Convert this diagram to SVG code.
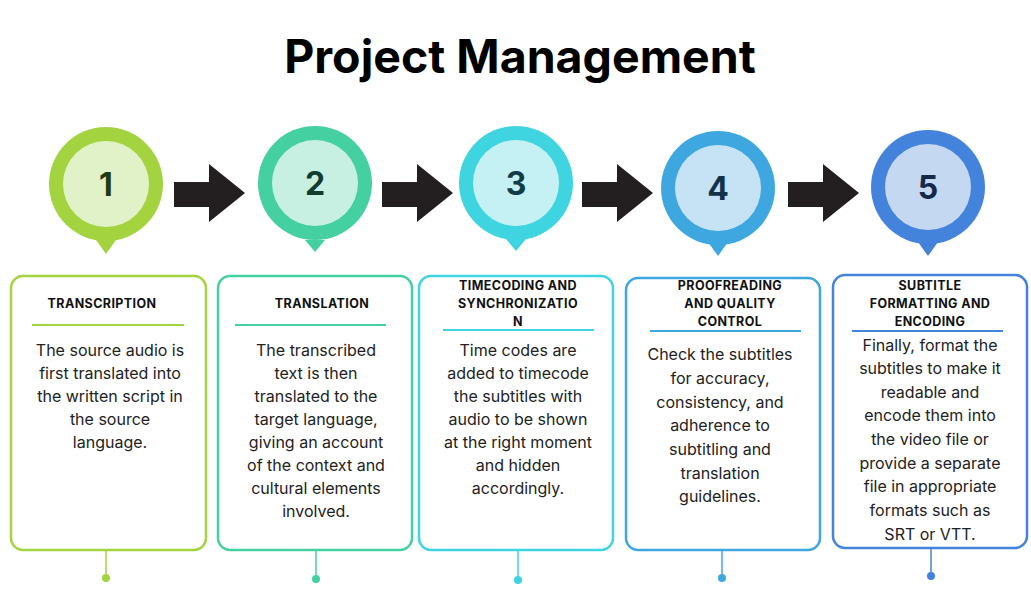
<svg xmlns="http://www.w3.org/2000/svg" width="1031" height="607" viewBox="0 0 1031 607">
<style>
.t{font-family:Inter,"Noto Sans",sans-serif;font-weight:700;font-size:46.5px;fill:#000}
.n{font-family:Inter,"Noto Sans",sans-serif;font-weight:700;font-size:32px}
.h{font-family:Inter,"Noto Sans",sans-serif;font-weight:700;font-size:12.5px;fill:#111;text-anchor:middle;letter-spacing:0.4px}
.b{font-family:Inter,"Noto Sans",sans-serif;font-size:16px;fill:#222;text-anchor:middle}
.box{fill:#fff;stroke-width:2.5}
.arr{fill:#231f20}
</style>
<rect width="1031" height="607" fill="#fff"/>
<text class="t" x="520" y="73" text-anchor="middle">Project Management</text>
<g id="connectors">
<path class="arr" d="M174,182H209V164L245,193L209,222V207H174Z"/>
<path class="arr" d="M382,182H417V164L453,193L417,222V207H382Z"/>
<path class="arr" d="M582,182H617V164L653,193L617,222V207H582Z"/>
<path class="arr" d="M788,182H823V164L859,193L823,222V207H788Z"/>
<g stroke-width="1.5">
<line x1="106" y1="550" x2="106" y2="578" stroke="#a3d440"/>
<line x1="316" y1="550" x2="316" y2="579" stroke="#44d0a0"/>
<line x1="518" y1="550" x2="518" y2="580" stroke="#3fd5e0"/>
<line x1="722" y1="550" x2="722" y2="578" stroke="#3fa7e0"/>
<line x1="931" y1="548" x2="931" y2="576" stroke="#4383dc"/>
</g>
<circle cx="106" cy="578" r="4" fill="#a3d440"/>
<circle cx="316" cy="579" r="4" fill="#44d0a0"/>
<circle cx="518" cy="580" r="4" fill="#3fd5e0"/>
<circle cx="722" cy="578" r="4" fill="#3fa7e0"/>
<circle cx="931" cy="576" r="4" fill="#4383dc"/>
</g>
<g id="step1">
<path d="M96,240L106,254L116,240Z" fill="#a3d440"/>
<circle cx="106" cy="184" r="57" fill="#a3d440"/>
<circle cx="106" cy="184" r="43" fill="#e2f2c8"/>
<text class="n" x="106" y="196" text-anchor="middle" fill="#1f3a10">1</text>
<rect class="box" x="11" y="276" width="195" height="274" rx="12" stroke="#a3d440"/>
<text class="h" x="102" y="308">TRANSCRIPTION</text>
<line x1="32" y1="325" x2="184" y2="325" stroke="#a3d440" stroke-width="2"/>
<text class="b"><tspan x="110" y="356">The source audio is</tspan><tspan x="110" y="379">first translated into</tspan><tspan x="110" y="402">the written script in</tspan><tspan x="110" y="425">the source</tspan><tspan x="110" y="448">language.</tspan></text>
</g>
<g id="step2">
<path d="M305,240L315,252L325,240Z" fill="#44d0a0"/>
<circle cx="315" cy="183" r="57" fill="#44d0a0"/>
<circle cx="315" cy="183" r="43" fill="#c8f0e2"/>
<text class="n" x="315" y="195" text-anchor="middle" fill="#113d30">2</text>
<rect class="box" x="218" y="276" width="194" height="274" rx="12" stroke="#44d0a0"/>
<text class="h" x="322" y="308">TRANSLATION</text>
<line x1="235" y1="325" x2="386" y2="325" stroke="#44d0a0" stroke-width="2"/>
<text class="b"><tspan x="316" y="356">The transcribed</tspan><tspan x="316" y="379">text is then</tspan><tspan x="316" y="402">translated to the</tspan><tspan x="316" y="425">target language,</tspan><tspan x="316" y="448">giving an account</tspan><tspan x="316" y="471">of the context and</tspan><tspan x="316" y="494">cultural elements</tspan><tspan x="316" y="517">involved.</tspan></text>
</g>
<g id="step3">
<path d="M506,239L516,251L526,239Z" fill="#3fd5e0"/>
<circle cx="516" cy="183" r="57" fill="#3fd5e0"/>
<circle cx="516" cy="183" r="43" fill="#c6f1f4"/>
<text class="n" x="516" y="195" text-anchor="middle" fill="#123c48">3</text>
<rect class="box" x="419" y="276" width="194" height="274" rx="12" stroke="#3fd5e0"/>
<text class="h"><tspan x="518" y="290">TIMECODING AND</tspan><tspan x="518" y="308">SYNCHRONIZATIO</tspan><tspan x="518" y="326">N</tspan></text>
<line x1="443" y1="330" x2="594" y2="330" stroke="#3fd5e0" stroke-width="2"/>
<text class="b"><tspan x="518" y="356">Time codes are</tspan><tspan x="518" y="379">added to timecode</tspan><tspan x="518" y="402">the subtitles with</tspan><tspan x="518" y="425">audio to be shown</tspan><tspan x="518" y="448">at the right moment</tspan><tspan x="518" y="471">and hidden</tspan><tspan x="518" y="494">accordingly.</tspan></text>
</g>
<g id="step4">
<path d="M708,242L718,256L728,242Z" fill="#3fa7e0"/>
<circle cx="718" cy="188" r="57" fill="#3fa7e0"/>
<circle cx="718" cy="188" r="43" fill="#c6e3f6"/>
<text class="n" x="718" y="200" text-anchor="middle" fill="#12324a">4</text>
<rect class="box" x="626" y="278" width="194" height="272" rx="12" stroke="#3fa7e0"/>
<text class="h"><tspan x="730" y="290">PROOFREADING</tspan><tspan x="730" y="308">AND QUALITY</tspan><tspan x="730" y="326">CONTROL</tspan></text>
<line x1="650" y1="331" x2="801" y2="331" stroke="#3fa7e0" stroke-width="2"/>
<text class="b"><tspan x="720" y="360">Check the subtitles</tspan><tspan x="720" y="384">for accuracy,</tspan><tspan x="720" y="408">consistency, and</tspan><tspan x="720" y="431">adherence to</tspan><tspan x="720" y="455">subtitling and</tspan><tspan x="720" y="479">translation</tspan><tspan x="720" y="502">guidelines.</tspan></text>
</g>
<g id="step5">
<path d="M918,242L928,256L938,242Z" fill="#4383dc"/>
<circle cx="928" cy="187" r="57" fill="#4383dc"/>
<circle cx="928" cy="187" r="43" fill="#c5d8f2"/>
<text class="n" x="928" y="199" text-anchor="middle" fill="#142a48">5</text>
<rect class="box" x="833" y="275" width="194" height="273" rx="12" stroke="#4383dc"/>
<text class="h"><tspan x="930" y="290">SUBTITLE</tspan><tspan x="930" y="308">FORMATTING AND</tspan><tspan x="930" y="326">ENCODING</tspan></text>
<line x1="852" y1="331" x2="1003" y2="331" stroke="#4383dc" stroke-width="2"/>
<text class="b"><tspan x="930" y="351">Finally, format the</tspan><tspan x="930" y="374">subtitles to make it</tspan><tspan x="930" y="398">readable and</tspan><tspan x="930" y="421">encode them into</tspan><tspan x="930" y="445">the video file or</tspan><tspan x="930" y="469">provide a separate</tspan><tspan x="930" y="492">file in appropriate</tspan><tspan x="930" y="516">formats such as</tspan><tspan x="930" y="540">SRT or VTT.</tspan></text>
</g>
</svg>
